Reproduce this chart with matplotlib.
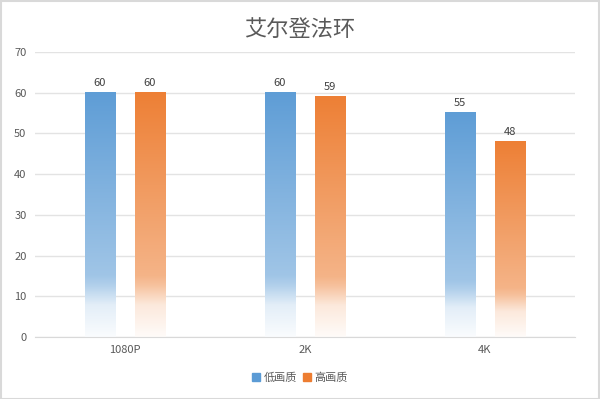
import numpy as np
import matplotlib.pyplot as plt
from matplotlib.colors import to_rgb

plt.rcParams['font.family'] = ['Noto Sans CJK SC', 'DejaVu Sans']

categories = ['1080P', '2K', '4K']
series_names = ['低画质', '高画质']
low_q = [60, 60, 55]
high_q = [60, 59, 48]
colors = ['#5B9BD5', '#ED7D31']

fig = plt.figure(figsize=(6.0, 3.99), dpi=100)
ax = fig.add_axes([0.058, 0.155, 0.90, 0.715])

x = np.arange(len(categories))
bw = 0.167
offs = [-0.139, 0.139]


def gradient(color, n=300):
    r, g, b = to_rgb(color)
    f = np.linspace(0, 1, n)
    # share of bar colour over white, bottom -> top
    w = np.interp(f, [0, 0.13, 0.21, 0.25, 1], [0.03, 0.17, 0.47, 0.58, 0.98])
    img = np.ones((n, 1, 3))
    img[:, 0, 0] = 1 - w * (1 - r)
    img[:, 0, 1] = 1 - w * (1 - g)
    img[:, 0, 2] = 1 - w * (1 - b)
    return img


for vals, off, col, name in zip([low_q, high_q], offs, colors, series_names):
    bars = ax.bar(x + off, vals, bw, color='none', edgecolor='none', label=name)
    for rect, v in zip(bars, vals):
        x0 = rect.get_x()
        ax.imshow(gradient(col), extent=(x0, x0 + rect.get_width(), 0, v),
                  aspect='auto', origin='lower', zorder=2, interpolation='bilinear')
        ax.text(rect.get_x() + rect.get_width() / 2, v + 1.2, str(v),
                ha='center', va='bottom', fontsize=8, color='#404040')

ax.set_xlim(-0.5, 2.5)
ax.set_ylim(0, 70)
ax.set_yticks(range(0, 71, 10))
ax.set_xticks(x)
ax.set_xticklabels(categories)
ax.tick_params(axis='both', length=0, labelsize=8, colors='#595959', pad=6)
ax.yaxis.grid(True, color='#e3e3e3', linewidth=1)
ax.set_axisbelow(True)
for s in ['top', 'right', 'left']:
    ax.spines[s].set_visible(False)
ax.spines['bottom'].set_color('#d9d9d9')

fig.suptitle('艾尔登法环', y=0.955, fontsize=16, color='#595959')

handles = [plt.Rectangle((0, 0), 1, 1, color=c) for c in colors]
fig.legend(handles, series_names, loc='lower center', bbox_to_anchor=(0.5, 0.015),
           ncol=2, frameon=False, fontsize=8, handlelength=0.7, handleheight=0.7,
           columnspacing=0.6, handletextpad=0.3, labelcolor='#595959')

fig.patches.append(plt.Rectangle((0.001, 0.001), 0.997, 0.997, transform=fig.transFigure,
                                 fill=False, edgecolor='#d9d9d9', linewidth=1.5))

fig.savefig('out.png', dpi=100)
